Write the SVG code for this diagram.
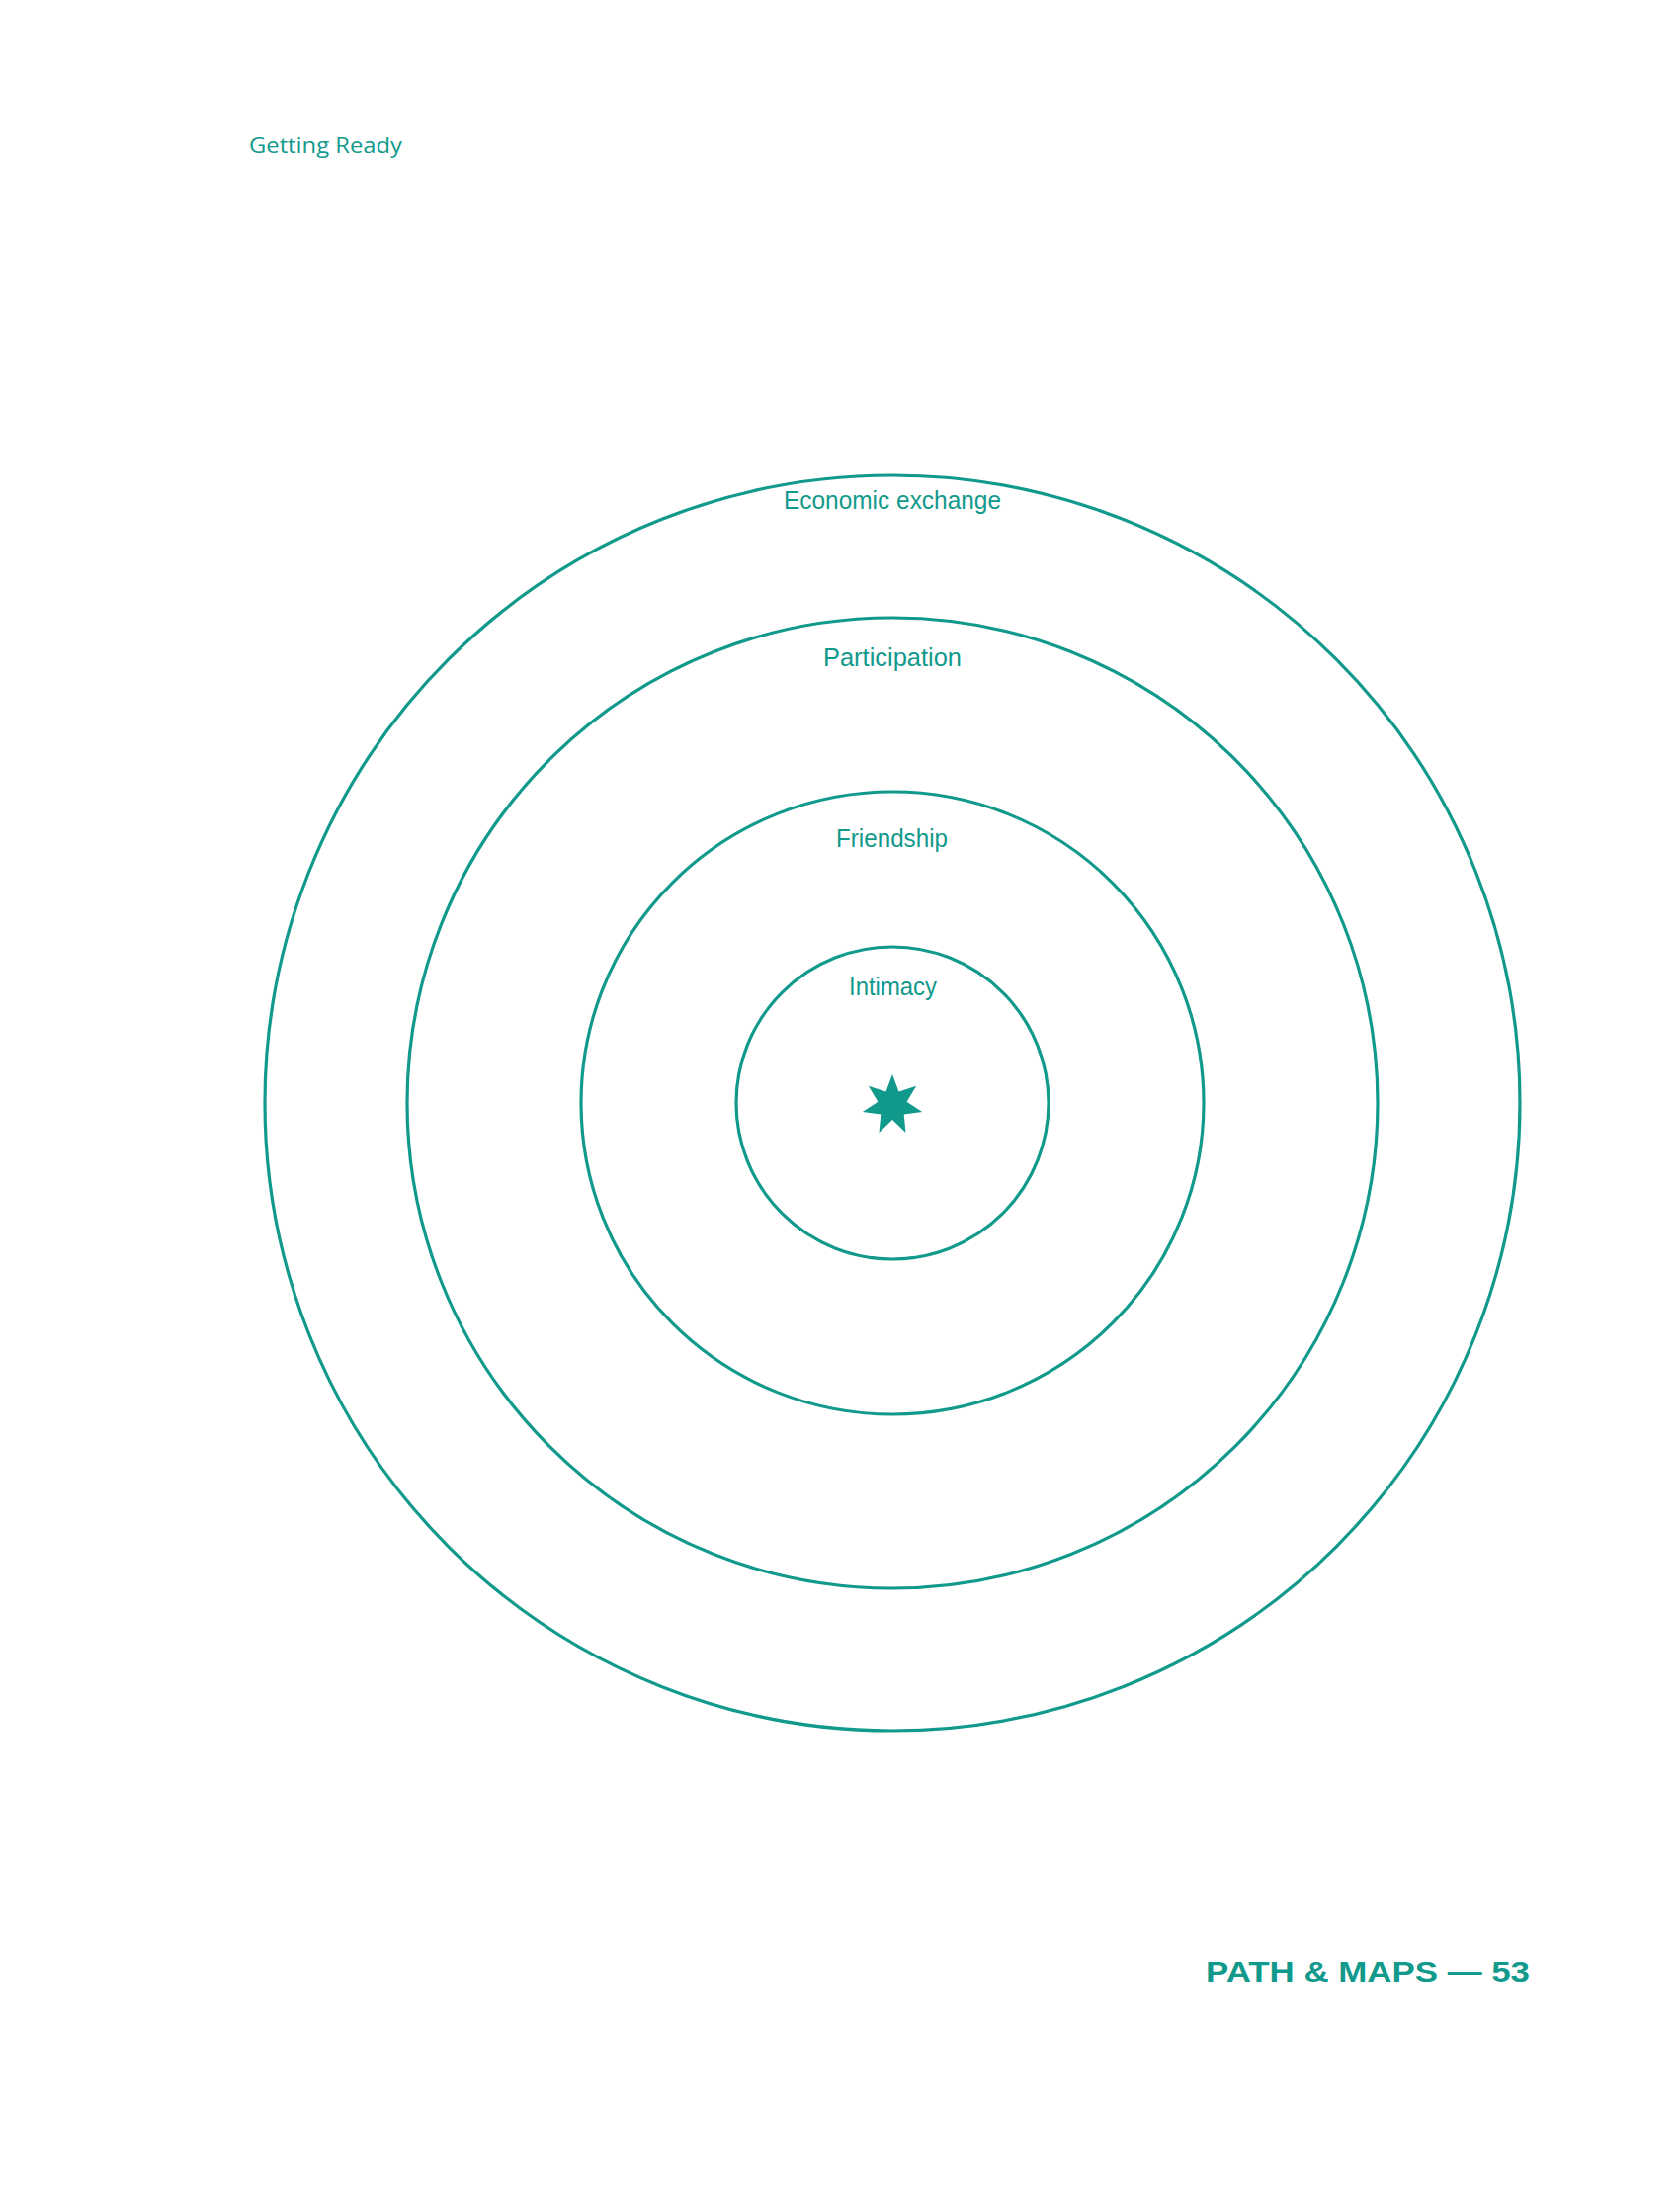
<svg xmlns="http://www.w3.org/2000/svg" width="1700" height="2234" viewBox="0 0 1700 2234">
<style>
.ring{fill:none;stroke:#11998c;stroke-width:3.2}
.lbl{font-family:"Liberation Sans","DejaVu Sans",sans-serif;font-size:25px;fill:#11998c;text-anchor:middle}
.hdr{font-family:"Open Sans","Noto Sans",sans-serif;font-size:22px;fill:#11998c}
.ftr{font-family:"Liberation Sans","DejaVu Sans",sans-serif;font-size:30px;font-weight:bold;fill:#11998c}
</style>
<rect width="1700" height="2234" fill="#ffffff"/>
<text class="hdr" x="252" y="155" textLength="155" lengthAdjust="spacingAndGlyphs">Getting Ready</text>
<g id="economic-exchange">
<circle class="ring" cx="903" cy="1116" r="635"/>
<text class="lbl" x="903" y="515" textLength="220" lengthAdjust="spacingAndGlyphs">Economic exchange</text>
</g>
<g id="participation">
<circle class="ring" cx="903" cy="1116" r="491"/>
<text class="lbl" x="903" y="674" textLength="140" lengthAdjust="spacingAndGlyphs">Participation</text>
</g>
<g id="friendship">
<circle class="ring" cx="903" cy="1116" r="315"/>
<text class="lbl" x="902.5" y="857" textLength="113" lengthAdjust="spacingAndGlyphs">Friendship</text>
</g>
<g id="intimacy">
<circle class="ring" cx="903" cy="1116" r="158"/>
<text class="lbl" x="903.5" y="1007" textLength="89" lengthAdjust="spacingAndGlyphs">Intimacy</text>
</g>
<g id="star">
<polygon fill="#11998c" points="903,1087 909.5,1104.5 927.2,1098.7 917.6,1114.7 933.2,1124.9 914.7,1127.4 916.5,1145.9 903,1133 889.5,1145.9 891.3,1127.4 872.8,1124.9 888.4,1114.7 878.8,1098.7 896.5,1104.5"/>
</g>
<g id="connectors"></g>
<text class="ftr" x="1220" y="2005" textLength="328" lengthAdjust="spacingAndGlyphs">PATH &amp; MAPS — 53</text>
</svg>
